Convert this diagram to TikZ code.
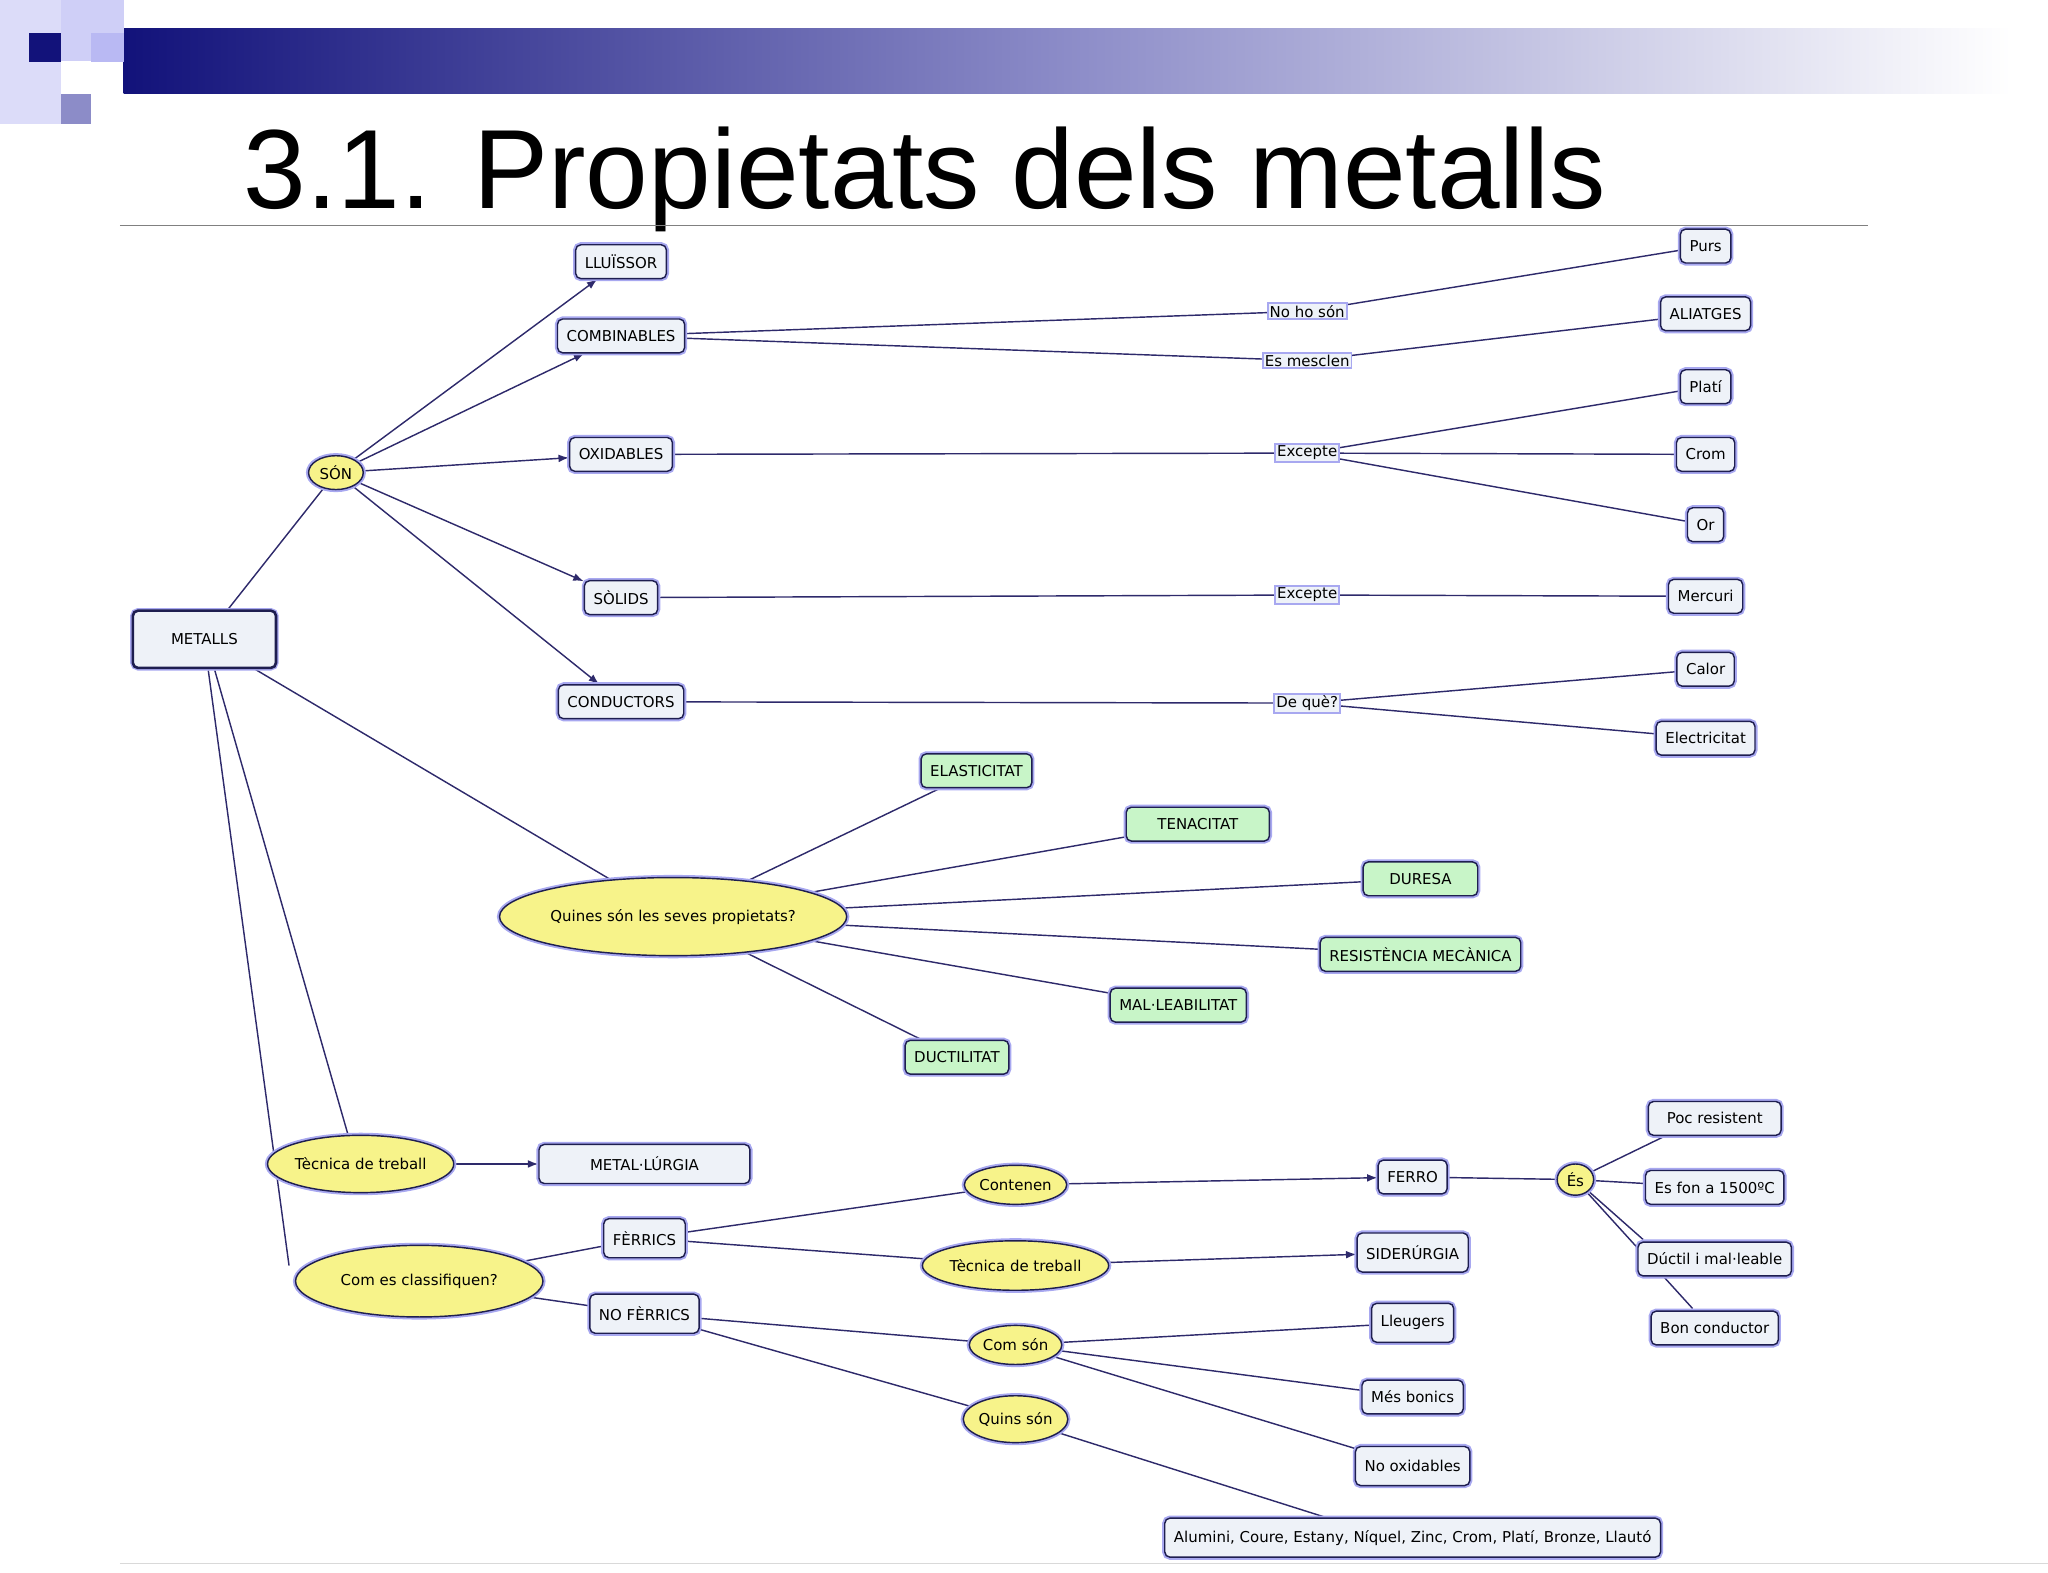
\documentclass[tikz,border=0pt]{standalone}
\usepackage{fontspec}
\setmainfont{DejaVu Sans}
\newfontfamily\titlefont{Liberation Sans}
\usetikzlibrary{shapes.geometric,arrows.meta}
\definecolor{edgec}{HTML}{2E2A6B}
\definecolor{bordc}{HTML}{1E1E50}
\definecolor{glow}{HTML}{A8A8F0}
\definecolor{boxf}{HTML}{EEF2F8}
\definecolor{greenf}{HTML}{C8F5C8}
\definecolor{yell}{HTML}{F7F38A}
\definecolor{navy}{HTML}{12127A}
\definecolor{lav}{HTML}{8C8CC8}
\pgfdeclarelayer{bg}
\pgfsetlayers{bg,main}
\tikzset{
 x=1pt,y=-1pt,
 cbox/.style={rectangle,rounded corners=4pt,draw=bordc,line width=1.1pt,fill=boxf,
   preaction={draw=glow,line width=4pt},inner xsep=7pt,minimum height=26pt,font=\fontsize{11.5}{14}\selectfont},
 gbox/.style={cbox,fill=greenf},
 lbl/.style={rectangle,draw=glow,line width=1.5pt,fill=boxf,inner sep=1.5pt,font=\fontsize{11.5}{14}\selectfont},
 ell/.style={ellipse,draw=bordc,line width=1.1pt,fill=yell,preaction={draw=glow,line width=4pt},
   inner sep=0pt,font=\fontsize{11.5}{14}\selectfont},
 ed/.style={draw=edgec,line width=1.1pt},
 ar/.style={ed,-{Latex[length=8pt,width=6pt]}}
}
\begin{document}
\begin{tikzpicture}
\useasboundingbox (0,0) rectangle (1573,1208);
% header
\shade[left color=navy, right color=white, middle color=lav] (95,22) rectangle (1545,72);
\fill[glow!40] (0,0) rectangle (47,95);
\fill[glow!55] (47,0) rectangle (95,47);
\fill[glow!80] (70,25) rectangle (95,48);
\fill[lav] (47,72) rectangle (70,95);
\fill[navy] (22,25) rectangle (47,48);
\node[anchor=base west,inner sep=0,font=\titlefont\fontsize{86.5}{100}\selectfont] (title) at (187,160) {3.1. Propietats dels metalls};
\draw[gray,line width=0.8pt] (92,173) -- (1435,173);
\draw[gray!30,line width=1pt] (92,1201) -- (1573,1201);
% nodes
\node[cbox,line width=2pt,minimum width=110pt,minimum height=44pt] (met) at (157,491) {METALLS};
\node[ell,minimum width=42pt,minimum height=26pt] (son) at (258,363) {SÓN};
\node[cbox] (llu) at (477,201) {LLUÏSSOR};
\node[cbox] (com) at (477,258) {COMBINABLES};
\node[cbox] (oxi) at (477,349) {OXIDABLES};
\node[cbox] (sol) at (477,459) {SÒLIDS};
\node[cbox] (con) at (477,539) {CONDUCTORS};
\node[lbl] (nhs) at (1004,239) {No ho són};
\node[lbl] (esm) at (1004,277) {Es mesclen};
\node[lbl] (ex1) at (1004,348) {Excepte};
\node[lbl] (ex2) at (1004,457) {Excepte};
\node[lbl] (dq) at (1004,540) {De què?};
\node[cbox] (purs) at (1310,189) {Purs};
\node[cbox] (ali) at (1310,241) {ALIATGES};
\node[cbox] (pla) at (1310,297) {Platí};
\node[cbox] (cro) at (1310,349) {Crom};
\node[cbox] (or) at (1310,403) {Or};
\node[cbox] (mer) at (1310,458) {Mercuri};
\node[cbox] (cal) at (1310,514) {Calor};
\node[cbox] (ele) at (1310,567) {Electricitat};
\node[ell,minimum width=225pt,minimum height=60pt] (qui) at (517,704) {Quines són les seves propietats?};
\node[gbox] (ela) at (750,592) {ELASTICITAT};
\node[gbox,minimum width=110pt] (ten) at (920,633) {TENACITAT};
\node[gbox,minimum width=88pt] (dur) at (1091,675) {DURESA};
\node[gbox] (res) at (1091,733) {RESISTÈNCIA MECÀNICA};
\node[gbox] (mal) at (905,772) {MAL·LEABILITAT};
\node[gbox] (duc) at (735,812) {DUCTILITAT};
\node[ell,minimum width=124pt,minimum height=44pt] (tec) at (277,894) {Tècnica de treball};
\node[cbox,minimum width=162pt,minimum height=30pt] (mtl) at (495,894) {METAL·LÚRGIA};
\node[ell,minimum width=190pt,minimum height=55pt] (ces) at (322,984) {Com es classifiquen?};
\node[cbox,minimum height=30pt] (fer) at (495,951) {FÈRRICS};
\node[cbox,minimum height=30pt] (nof) at (495,1009) {NO FÈRRICS};
\node[ell,minimum width=74pt,minimum height=30pt] (cont) at (780,910) {Contenen};
\node[ell,minimum width=124pt,minimum height=38pt] (tec2) at (780,972) {Tècnica de treball};
\node[ell,minimum width=68pt,minimum height=30pt] (coms) at (780,1033) {Com són};
\node[ell,minimum width=76pt,minimum height=36pt] (quis) at (780,1090) {Quins són};
\node[cbox] (ferro) at (1085,904) {FERRO};
\node[cbox,minimum height=30pt] (sid) at (1085,962) {SIDERÚRGIA};
\node[cbox,minimum height=30pt] (lle) at (1085,1016) {Lleugers};
\node[cbox] (mes) at (1085,1073) {Més bonics};
\node[cbox,minimum height=30pt] (noo) at (1085,1126) {No oxidables};
\node[cbox,minimum height=30pt] (alu) at (1085,1181) {Alumini, Coure, Estany, Níquel, Zinc, Crom, Platí, Bronze, Llautó};
\node[ell,minimum width=28pt,minimum height=24pt] (es) at (1210,906) {És};
\node[cbox,minimum width=102pt] (poc) at (1317,859) {Poc resistent};
\node[cbox] (fon) at (1317,912) {Es fon a 1500ºC};
\node[cbox] (duct) at (1317,967) {Dúctil i mal·leable};
\node[cbox] (bon) at (1317,1020) {Bon conductor};
\coordinate (mt1) at (165,515);
\coordinate (mt2) at (160,515);
% edges
\begin{pgfonlayer}{bg}
\draw[ed] (met) -- (son);
\draw[ar] (son) -- (llu);
\draw[ar] (son) -- (com);
\draw[ar] (son) -- (oxi);
\draw[ar] (son) -- (sol);
\draw[ar] (son) -- (con);
\draw[ed] (com.center) -- (nhs.center) -- (purs.center);
\draw[ed] (com.center) -- (esm.center) -- (ali.center);
\draw[ed] (oxi.center) -- (ex1.center);
\draw[ed] (ex1.center) -- (pla.center); \draw[ed] (ex1.center) -- (cro.center); \draw[ed] (ex1.center) -- (or.center);
\draw[ed] (sol.center) -- (ex2.center) -- (mer.center);
\draw[ed] (con.center) -- (dq.center);
\draw[ed] (dq.center) -- (cal.center); \draw[ed] (dq.center) -- (ele.center);
\draw[ed] (met.center) -- (qui.center);
\foreach \g in {ela,ten,dur,res,mal,duc} \draw[ed] (qui.center) -- (\g.center);
\draw[ed] (mt1) -- (268,874);
\draw[ed] (mt2) -- (222,972);
\draw[ar] (tec) -- (mtl);
\draw[ed] (ces.center) -- (fer.center); \draw[ed] (ces.center) -- (nof.center);
\draw[ed] (fer.center) -- (cont.center); \draw[ed] (fer.center) -- (tec2.center);
\draw[ar] (cont) -- (ferro);
\draw[ar] (tec2) -- (sid);
\draw[ed] (ferro.center) -- (es.center);
\draw[ed] (es.center) -- (1280,872);
\draw[ed] (es.center) -- (fon.center);
\draw[ed] (es.center) -- (1262,952);
\draw[ed] (es.center) -- (1300,1005);
\draw[ed] (nof.center) -- (coms.center); \draw[ed] (nof.center) -- (quis.center);
\foreach \g in {lle,mes,noo} \draw[ed] (coms.center) -- (\g.center);
\draw[ed] (quis.center) -- (1020,1166);
\end{pgfonlayer}
\end{tikzpicture}
\end{document}
